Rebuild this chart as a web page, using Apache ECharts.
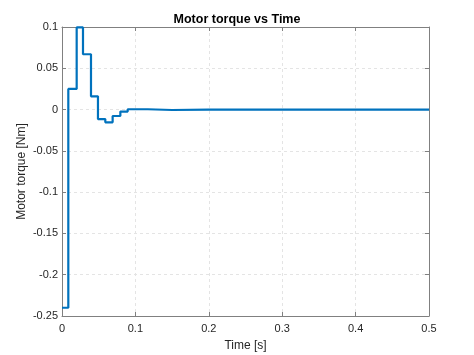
<!DOCTYPE html>
<html>
<head>
<meta charset="utf-8">
<script src="https://cdn.jsdelivr.net/npm/echarts@6/dist/echarts.min.js"></script>
<style>html,body{margin:0;padding:0;background:#fff}#c{width:474px;height:355px}</style>
</head>
<body>
<div id="c"></div>
<script>
// Zero-order-hold samples: each value holds from its time until the next time
var times  = [0, 0.0086, 0.020, 0.0286, 0.0395, 0.0490, 0.0590, 0.0690, 0.0795, 0.0895, 0.117, 0.150, 0.200, 0.500];
var torque = [-0.240, 0.025, 0.0995, 0.067, 0.016, -0.0115, -0.0154, -0.0078, -0.0024, 0.0004, -0.0005, 0.0, 0.0, 0.0];
var xTicks = [0, 0.1, 0.2, 0.3, 0.4, 0.5];
var yTicks = [-0.25, -0.2, -0.15, -0.1, -0.05, 0, 0.05, 0.1];

var pts = times.map(function (t, i) { return [t, torque[i]]; });
var font = 'Liberation Sans, Arial, Helvetica, sans-serif';
var axisCol = '#808080';
var gridCol = '#e4e4e4';
var fmt = function (v) { return String(parseFloat(Number(v).toFixed(3))); };

var chart = echarts.init(document.getElementById('c'));
chart.setOption({
  animation: false,
  backgroundColor: '#ffffff',
  title: {
    text: 'Motor torque vs Time', left: 'center', top: 8,
    textStyle: { fontFamily: font, fontSize: 12.5, fontWeight: 'bold', color: '#000' }
  },
  grid: { left: 62, right: 45, top: 27, bottom: 39, containLabel: false, outerBoundsMode: 'none' },
  xAxis: [{
    type: 'value', min: xTicks[0], max: xTicks[xTicks.length - 1], interval: 0.1,
    name: 'Time [s]', nameLocation: 'middle', nameGap: 24, nameMoveOverlap: false,
    nameTextStyle: { fontFamily: font, fontSize: 12, color: '#262626' },
    axisLine: { show: true, onZero: false, lineStyle: { color: axisCol, width: 1 } },
    axisTick: { show: true, inside: true, length: 4, lineStyle: { color: axisCol } },
    axisLabel: { fontFamily: font, fontSize: 11, color: '#262626', margin: 7, formatter: fmt },
    splitLine: { show: true, lineStyle: { color: gridCol, type: [3, 3], width: 1 } }
  }, {
    type: 'value', position: 'top', min: xTicks[0], max: xTicks[xTicks.length - 1], interval: 0.1,
    axisLine: { show: true, onZero: false, lineStyle: { color: axisCol, width: 1 } },
    axisTick: { show: true, inside: true, length: 4, lineStyle: { color: axisCol } },
    axisLabel: { show: false }, splitLine: { show: false }
  }],
  yAxis: [{
    type: 'value', min: yTicks[0], max: yTicks[yTicks.length - 1], interval: 0.05,
    name: 'Motor torque [Nm]', nameLocation: 'middle', nameGap: 34, nameMoveOverlap: false,
    nameTextStyle: { fontFamily: font, fontSize: 12, color: '#262626' },
    axisLine: { show: true, onZero: false, lineStyle: { color: axisCol, width: 1 } },
    axisTick: { show: true, inside: true, length: 4, lineStyle: { color: axisCol } },
    axisLabel: { fontFamily: font, fontSize: 11, color: '#262626', margin: 4, formatter: fmt },
    splitLine: { show: true, lineStyle: { color: gridCol, type: [3, 3], width: 1 } }
  }, {
    type: 'value', position: 'right', min: yTicks[0], max: yTicks[yTicks.length - 1], interval: 0.05,
    axisLine: { show: true, onZero: false, lineStyle: { color: axisCol, width: 1 } },
    axisTick: { show: true, inside: true, length: 4, lineStyle: { color: axisCol } },
    axisLabel: { show: false }, splitLine: { show: false }
  }],
  series: [{
    type: 'line', xAxisIndex: 0, yAxisIndex: 0,
    step: 'end', data: pts, showSymbol: false, symbol: 'none',
    lineStyle: { color: '#0072BD', width: 2.2 }, clip: true
  }]
});
</script>
</body>
</html>
